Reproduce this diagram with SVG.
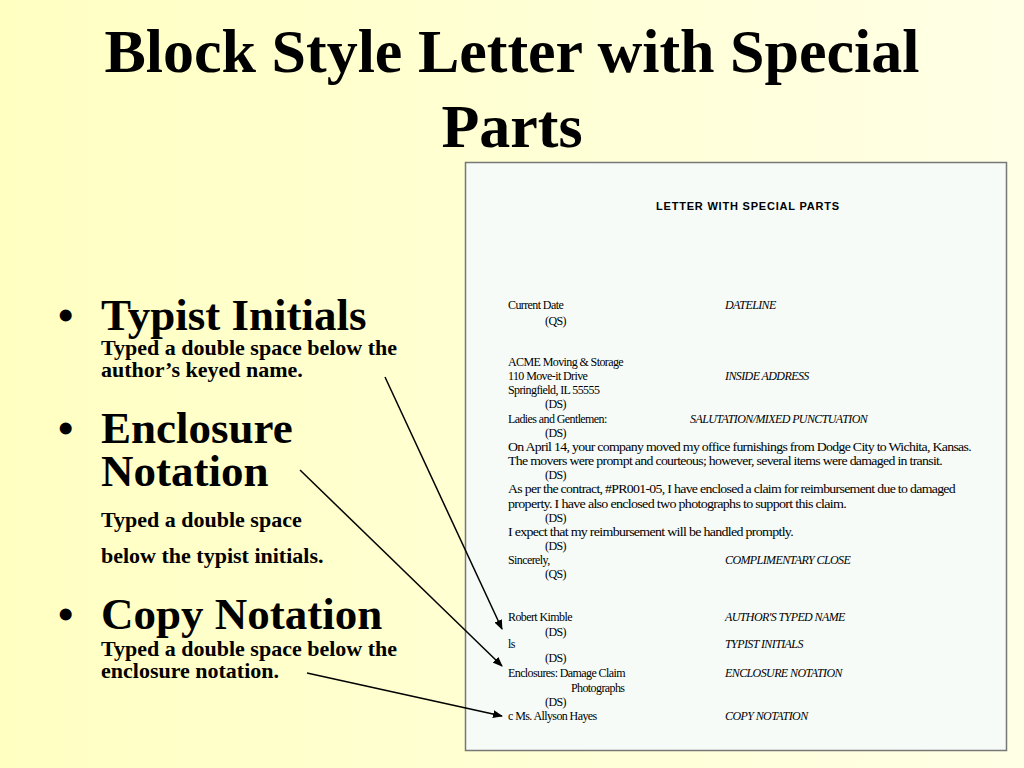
<svg xmlns="http://www.w3.org/2000/svg" width="1024" height="768" viewBox="0 0 1024 768">
<defs>
<linearGradient id="bg" x1="0" y1="0" x2="1" y2="0"><stop offset="0" stop-color="#FFFFC2"/><stop offset="1" stop-color="#FFFFE6"/></linearGradient>
<marker id="ah" markerWidth="10" markerHeight="8" refX="9" refY="4" orient="auto" markerUnits="userSpaceOnUse"><path d="M0,0 L10,4 L0,8 Z" fill="#000"/></marker>
<style>
.t{font-family:"Liberation Serif",serif;font-weight:bold;fill:#000}
.l{font-family:"Liberation Serif",serif;font-size:12px;letter-spacing:-0.6px;fill:#000}
.i{font-style:italic}
</style>
</defs>
<rect width="1024" height="768" fill="url(#bg)"/>
<g id="title" class="t" font-size="62" text-anchor="middle">
<text x="512" y="72">Block Style Letter with Special</text>
<text x="512" y="147">Parts</text>
</g>
<g id="bullets" class="t">
<text x="58" y="330" font-size="44">•</text><text x="101" y="330" font-size="45">Typist Initials</text>
<text x="101" y="355" font-size="22">Typed a double space below the</text>
<text x="101" y="377" font-size="22">author’s keyed name.</text>
<text x="58" y="443" font-size="44">•</text><text x="101" y="443" font-size="45">Enclosure</text>
<text x="101" y="486" font-size="45">Notation</text>
<text x="101" y="527" font-size="22">Typed a double space</text>
<text x="101" y="563" font-size="22">below the typist initials.</text>
<text x="58" y="629" font-size="44">•</text><text x="101" y="629" font-size="45">Copy Notation</text>
<text x="101" y="656" font-size="22">Typed a double space below  the</text>
<text x="101" y="678" font-size="22">enclosure notation.</text>
</g>
<g id="letter">
<rect x="465.5" y="162.5" width="541" height="588" fill="#F6FBF7" stroke="#777" stroke-width="1.5"/>
<text x="748" y="210" text-anchor="middle" font-family="Liberation Sans,sans-serif" font-size="11" font-weight="bold" letter-spacing="0.8">LETTER WITH SPECIAL PARTS</text>
<g class="l">
<text x="508" y="309">Current Date</text><text x="725" y="309" class="i">DATELINE</text>
<text x="545" y="325">(QS)</text>
<text x="508" y="366">ACME Moving &amp; Storage</text>
<text x="508" y="380">110 Move-it Drive</text><text x="725" y="380" class="i">INSIDE ADDRESS</text>
<text x="508" y="394">Springfield, IL  55555</text>
<text x="545" y="408">(DS)</text>
<text x="508" y="423">Ladies and Gentlemen:</text><text x="690" y="423" class="i">SALUTATION/MIXED PUNCTUATION</text>
<text x="545" y="437">(DS)</text>
<text x="508" y="451" textLength="463" lengthAdjust="spacingAndGlyphs">On April 14, your company moved my office furnishings from Dodge City to Wichita, Kansas.</text>
<text x="508" y="465" textLength="434" lengthAdjust="spacingAndGlyphs">The movers were prompt and courteous; however, several items were damaged in transit.</text>
<text x="545" y="479">(DS)</text>
<text x="508" y="493" textLength="447" lengthAdjust="spacingAndGlyphs">As per the contract, #PR001-05, I have enclosed a claim for reimbursement due to damaged</text>
<text x="508" y="508" textLength="338" lengthAdjust="spacingAndGlyphs">property.  I have also enclosed two photographs to support this claim.</text>
<text x="545" y="522">(DS)</text>
<text x="508" y="536" textLength="285" lengthAdjust="spacingAndGlyphs">I expect that my reimbursement will be handled promptly.</text>
<text x="545" y="550">(DS)</text>
<text x="508" y="564">Sincerely,</text><text x="725" y="564" class="i">COMPLIMENTARY CLOSE</text>
<text x="545" y="578">(QS)</text>
<text x="508" y="621">Robert Kimble</text><text x="725" y="621" class="i">AUTHOR'S TYPED NAME</text>
<text x="545" y="636">(DS)</text>
<text x="508" y="648">ls</text><text x="725" y="648" class="i">TYPIST INITIALS</text>
<text x="545" y="662">(DS)</text>
<text x="508" y="677">Enclosures:  Damage Claim</text><text x="725" y="677" class="i">ENCLOSURE NOTATION</text>
<text x="571" y="692">Photographs</text>
<text x="545" y="706">(DS)</text>
<text x="508" y="720">c Ms. Allyson Hayes</text><text x="725" y="720" class="i">COPY NOTATION</text>
</g>
</g>
<g id="connectors" stroke="#000" stroke-width="1.5" fill="none" marker-end="url(#ah)">
<line x1="385" y1="377" x2="502" y2="629"/>
<line x1="300" y1="470" x2="502" y2="666"/>
<line x1="307" y1="673" x2="502" y2="716"/>
</g>
</svg>
